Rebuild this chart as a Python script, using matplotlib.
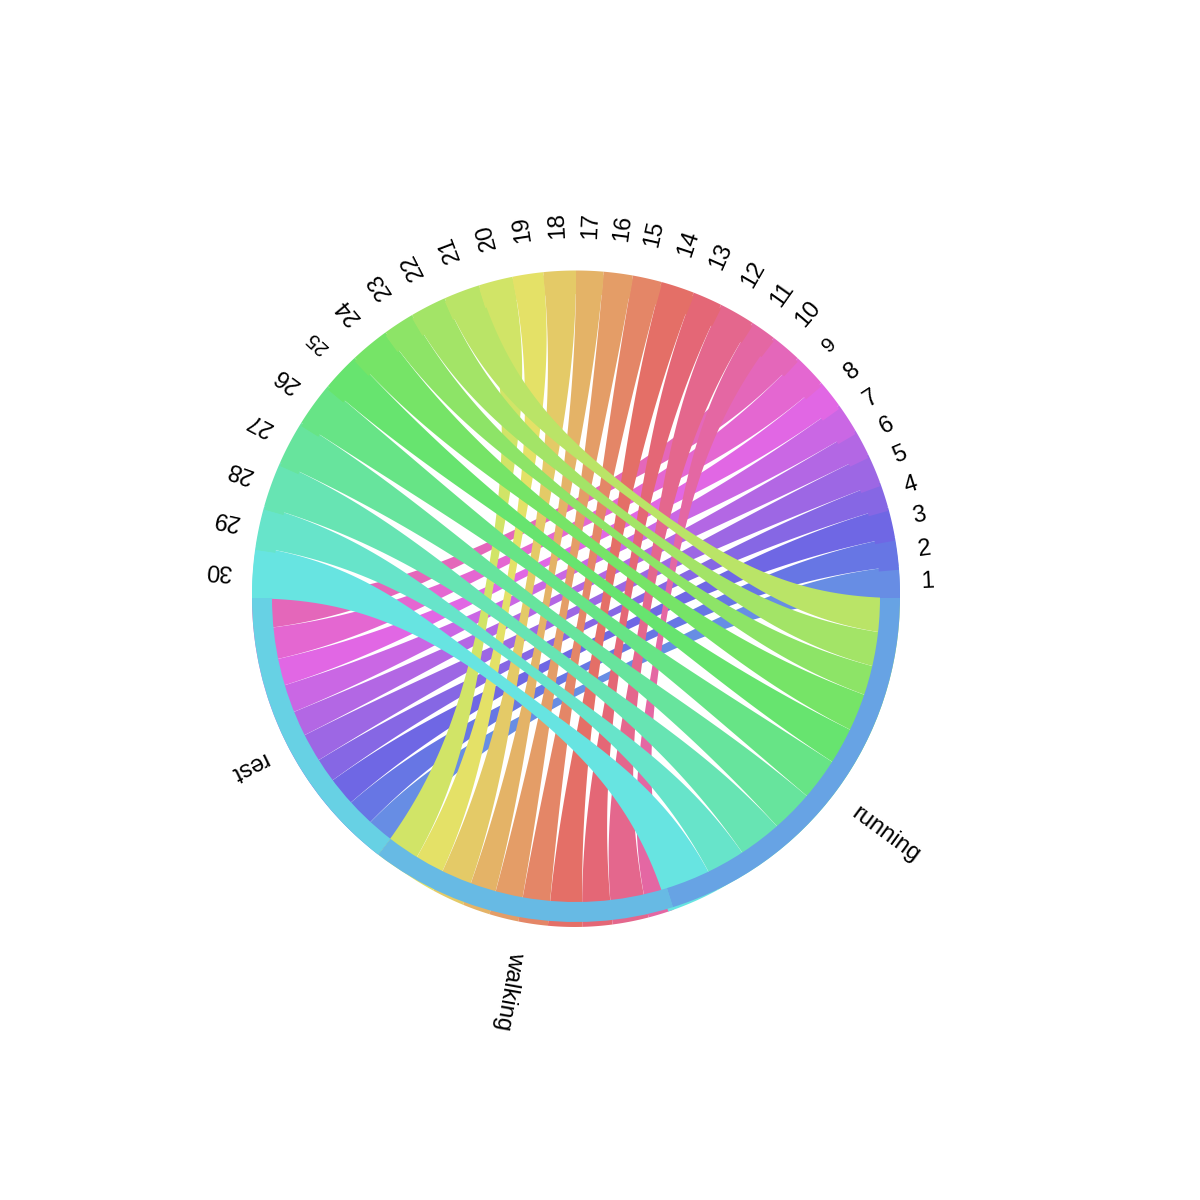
import colorsys
import numpy as np
import matplotlib
matplotlib.use("Agg")
import matplotlib.pyplot as plt
from matplotlib.patches import Polygon, Wedge

# sample -> activity chord widths
samples = [str(i) for i in range(1, 31)]
rest_values = [5.0, 5.2, 5.4, 4.6, 5.4, 4.8, 5.3, 5.1, 6.0, 5.6]
walking_values = [4.6, 6.4, 5.3, 6.0, 5.2, 5.2, 4.9, 5.8, 5.5, 6.1]
running_values = [6.5, 6.5, 5.6, 7.1, 6.9, 8.0, 8.0, 8.2, 7.3, 8.5]
activities = ["rest", "walking", "running"]

CX, CY = 576, 602
CENTRE = np.array([CX, CY])
R_OUT, R_IN = 324, 304
SHIFT_UP = 3.5
FIRST_HUE = 222
# how far the chords spread out from the centre / pinch in the middle
SPREAD = 0.15
PINCH = 0.25
PROFILE = 2.2


def hue_color(i):
    h = (FIRST_HUE + i * 360 / 33) % 360 / 360
    return colorsys.hls_to_rgb(h, 0.65, 0.7)


def point(deg, r=R_OUT, dy=0):
    a = np.radians(deg)
    return np.array([CX + r * np.cos(a), CY + r * np.sin(a) + dy])


def target_radius(deg):
    # chord roots stick out a little below the ring around the bottom
    d = (deg - 268) / 30
    if abs(d) < 1:
        return R_OUT + 5 * np.cos(d * np.pi / 2)
    return R_OUT


def edge(a, b, ctrl_offset):
    # bezier through the centre, bent by ctrl_offset only away from the ends
    t = np.linspace(0, 1, 80)[:, None]
    base = (1 - t) ** 2 * a + 2 * t * (1 - t) * CENTRE + t ** 2 * b
    return base + 0.5 * np.sin(np.pi * t) ** PROFILE * ctrl_offset


def chord(s0, s1, t0, t1, color):
    src = [point(a, dy=SHIFT_UP) for a in np.linspace(s0, s1, 12)]
    tgt = [point(a, target_radius(a)) for a in np.linspace(t0, t1, 12)]
    mid = (src[0] + src[-1] + tgt[0] + tgt[-1] - 4 * CENTRE) / 2
    pinch = (src[-1] - src[0] + tgt[0] - tgt[-1]) / 2
    up = edge(src[-1], tgt[0], SPREAD * mid - PINCH * pinch)
    down = edge(tgt[-1], src[0], SPREAD * mid + PINCH * pinch)
    verts = np.vstack([src, up, tgt, down])
    return Polygon(verts, closed=True, facecolor=color, edgecolor="none", lw=0, zorder=2)


plt.rcParams["font.family"] = ["Liberation Sans", "DejaVu Sans"]
fig = plt.figure(figsize=(12, 12), dpi=100)
ax = fig.add_axes([0, 0, 1, 1])
ax.set_xlim(0, 1200)
ax.set_ylim(0, 1200)
ax.axis("off")

groups = [rest_values, walking_values, running_values]
widths = np.array(rest_values + walking_values + running_values, dtype=float)
edges = np.concatenate([[0], np.cumsum(widths)])

group_start = 180.0
group_edges = []
for g, values in enumerate(groups):
    offset = 10 * g
    angle = group_start
    # last sample of a group lands first on its arc
    for k in range(len(values) - 1, -1, -1):
        i = offset + k
        s0, s1 = edges[i], edges[i + 1]
        t0, t1 = angle, angle + values[k]
        # end chords close the small gap left by the upward shift
        if i == 0:
            s0 -= 0.7
        if i == 29:
            s1 += 0.7
            t0 -= 1
        ax.add_patch(chord(s0, s1, t0, t1, hue_color(i)))
        angle += values[k]
    group_edges.append((group_start, angle))
    group_start = angle

# rings go over the chord ends
for i in range(30):
    ax.add_patch(Wedge((CX, CY), R_OUT, edges[i], edges[i + 1], width=R_OUT - R_IN,
                       facecolor=hue_color(i), edgecolor="none", lw=0, zorder=3))
for g, (a0, a1) in enumerate(group_edges):
    ax.add_patch(Wedge((CX, CY), R_OUT, a0, a1, width=R_OUT - R_IN,
                       facecolor=hue_color(30 + g), edgecolor="none", lw=0, zorder=3))


def label(text, deg, size=17):
    a = np.radians(deg)
    x = CX + 345 * np.cos(a)
    y = CY + 360 * np.sin(a)
    ax.text(x, y, text, rotation=deg, rotation_mode="anchor", ha="left", va="center",
            fontsize=size, color="black", zorder=4)


small = {"9": 15, "25": 14.5}
for i, name in enumerate(samples):
    label(name, (edges[i] + edges[i + 1]) / 2, small.get(name, 17))
for name, (a0, a1) in zip(activities, group_edges):
    label(name, (a0 + a1) / 2)

fig.savefig("out.png", dpi=100, facecolor="white")
